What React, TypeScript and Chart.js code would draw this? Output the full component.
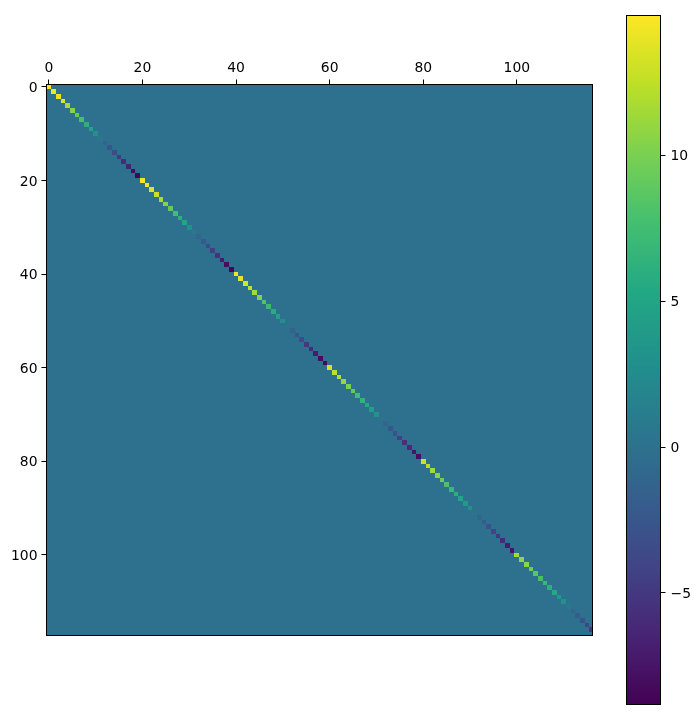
import React, { useEffect, useRef } from "react";
import { Chart, registerables } from "chart.js";

Chart.register(...registerables);

const FONT = "'DejaVu Sans', sans-serif";
const FONT_SIZE = 13.9;

const xLimit = 116.17;
const yLimit = 117.23;
const matrixTicks = [0, 20, 40, 60, 80, 100];
const colorbarTicks = [-5, 0, 5, 10];
const valueMin = -8.82;
const valueMax = 14.78;

const diagonalA = [14.6, 14.2, 14, 13.6, 11.6, 10.4, 9, 7.8, 6.2, 5, 3, 0.4, -1.5, -2.5, -3.5, -5, -5.8, -6.6, -8, -8.6];
const diagonalB = [14.5, 14.2, 13.6, 12.7, 11.6, 10.4, 9, 7.6, 6, 5, 3, 0.5, -1, -2, -3.5, -4.5, -5.5, -7, -8, -8.5];
const diagonalC = [14.4, 14, 13.5, 12.6, 11.5, 10.2, 8.2, 7, 5.8, 4.6, 2.5, 0.2, -1.5, -2.5, -3.5, -5, -6, -7, -8, -8.3];
const diagonalD = [13.2, 12.5, 12, 11, 10, 9, 7.5, 6.5, 5.5, 4.5, 3.2, 0.2, -1, -2.5, -3, -4.5, -5.5, -6, -7.5, -8];
const diagonalE = [13, 12.3, 11.5, 10.5, 9.5, 8, 7, 6, 5, 4, 3, 0.2, -1, -2, -3, -4, -5, -6, -7, -7.5];
const diagonalF = [11.6, 10.8, 10.6, 9.6, 8.6, 7.6, 7, 6, 5.5, 4, 3, 0.5, -1, -2, -3, -4, -5];
const diagonal = [...diagonalA, ...diagonalB, ...diagonalC, ...diagonalD, ...diagonalE, ...diagonalF];

const viridisStops = [
  "#440154", "#482475", "#414487", "#355f8d", "#2a788e",
  "#21918c", "#22a884", "#44bf70", "#7ad151", "#bddf26", "#fde725",
];

function parseHex(hex: string) {
  return [1, 3, 5].map((i) => parseInt(hex.slice(i, i + 2), 16));
}

function colorFor(value: number) {
  const t = Math.min(1, Math.max(0, (value - valueMin) / (valueMax - valueMin)));
  const pos = t * (viridisStops.length - 1);
  const i = Math.min(viridisStops.length - 2, Math.floor(pos));
  const a = parseHex(viridisStops[i]);
  const b = parseHex(viridisStops[i + 1]);
  const f = pos - i;
  const c = a.map((v, k) => Math.round(v + (b[k] - v) * f));
  return `rgb(${c[0]},${c[1]},${c[2]})`;
}

const framePlugin = {
  id: "frame",
  afterDraw(chart: any) {
    const { left, top, right, bottom } = chart.chartArea;
    const ctx = chart.ctx;
    const l = Math.floor(left) + 0.5;
    const t = Math.floor(top) + 0.5;
    const r = Math.floor(right) + 0.5;
    const b = Math.floor(bottom) + 0.5;
    ctx.save();
    ctx.strokeStyle = "#000";
    ctx.lineWidth = 1;
    ctx.strokeRect(l, t, r - l, b - t);
    ctx.restore();
  },
};

const cellsPlugin = {
  id: "cells",
  beforeDatasetDraw(chart: any, args: any) {
    if (args.index !== 0) return true;
    const { x, y } = chart.scales;
    const ctx = chart.ctx;
    const { left, top, right, bottom } = chart.chartArea;
    ctx.save();
    ctx.beginPath();
    ctx.rect(left, top, right - left, bottom - top);
    ctx.clip();
    ctx.fillStyle = colorFor(0);
    ctx.fillRect(left, top, right - left, bottom - top);
    args.meta.data.forEach((_p: any, i: number) => {
      const d = chart.data.datasets[0].data[i];
      const x0 = Math.round(x.getPixelForValue(d.x - 0.5));
      const x1 = Math.round(x.getPixelForValue(d.x + 0.5));
      const y0 = Math.round(y.getPixelForValue(d.y - 0.5));
      const y1 = Math.round(y.getPixelForValue(d.y + 0.5));
      ctx.fillStyle = colorFor(d.v);
      ctx.fillRect(x0, y0, x1 - x0, y1 - y0);
    });
    ctx.restore();
    return false;
  },
};

const axisCommon = (ticks: number[], padding: number, labelOffset: number) => ({
  type: "linear" as const,
  afterBuildTicks(scale: any) {
    scale.ticks = ticks.map((value) => ({ value }));
  },
  border: { display: false },
  grid: { drawOnChartArea: false, drawTicks: true, tickLength: 5, tickColor: "#000", tickWidth: 1 },
  ticks: {
    color: "#000",
    maxRotation: 0,
    autoSkip: false,
    padding,
    labelOffset,
    font: { family: FONT, size: FONT_SIZE },
    callback: (v: any) => String(v).replace("-", "\u2212"),
  },
});

export default function App() {
  const mainRef = useRef<HTMLCanvasElement>(null);
  const barRef = useRef<HTMLCanvasElement>(null);

  useEffect(() => {
    document.body.style.margin = "0";
    document.body.style.background = "#fff";

    const main = new Chart(mainRef.current!, {
      type: "scatter",
      plugins: [cellsPlugin, framePlugin],
      data: {
        datasets: [
          {
            data: diagonal.map((v, i) => ({ x: i, y: i, v })) as any,
            pointRadius: 0,
          },
        ],
      },
      options: {
        animation: false,
        responsive: false,
        events: [],
        layout: { padding: { top: 0, left: 0, right: 101.5, bottom: 82.5 } },
        plugins: { legend: { display: false }, tooltip: { enabled: false } },
        scales: {
          x: {
            ...axisCommon(matrixTicks, 3, 0),
            position: "top",
            min: -0.5,
            max: xLimit,
            afterFit(scale: any) {
              scale.height = 84.5;
            },
          },
          y: {
            ...axisCommon(matrixTicks, 4, 1.5),
            reverse: true,
            min: -0.5,
            max: yLimit,
            afterFit(scale: any) {
              scale.width = 46.5;
            },
          },
        },
      } as any,
    });

    const bar = new Chart(barRef.current!, {
      type: "bar",
      plugins: [framePlugin],
      data: {
        labels: ["colorbar"],
        datasets: [
          {
            data: [[valueMin, valueMax]] as any,
            barPercentage: 1,
            categoryPercentage: 1,
            backgroundColor: (c: any) => {
              const area = c.chart.chartArea;
              if (!area) return viridisStops[0];
              const g = c.chart.ctx.createLinearGradient(0, area.bottom, 0, area.top);
              viridisStops.forEach((s, i) => g.addColorStop(i / (viridisStops.length - 1), s));
              return g;
            },
          },
        ],
      },
      options: {
        animation: false,
        responsive: false,
        events: [],
        layout: { padding: { top: 15.5, left: 16.5, right: 0, bottom: 13.5 } },
        plugins: { legend: { display: false }, tooltip: { enabled: false } },
        scales: {
          x: { display: false },
          y: {
            ...axisCommon(colorbarTicks, 5, 1),
            position: "right",
            min: valueMin,
            max: valueMax,
            afterFit(scale: any) {
              scale.width = 33.5;
            },
          },
        },
      } as any,
    });

    return () => {
      main.destroy();
      bar.destroy();
    };
  }, []);

  return (
    <div style={{ position: "relative", width: 694, height: 718, overflow: "hidden", background: "#fff" }}>
      <canvas ref={mainRef} width={694} height={718} style={{ position: "absolute", left: 0, top: 0, display: "block" }} />
      <canvas ref={barRef} width={84} height={718} style={{ position: "absolute", left: 610, top: 0, display: "block" }} />
    </div>
  );
}
